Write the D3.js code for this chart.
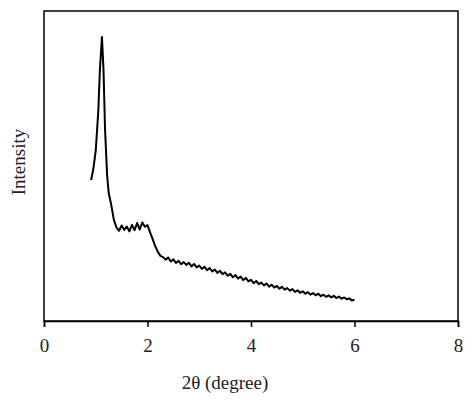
<!DOCTYPE html>
<html><head><meta charset="utf-8">
<script src="https://cdn.jsdelivr.net/npm/d3@7"></script>
<style>body{margin:0;background:#fff}</style></head>
<body><svg id="c" width="474" height="404"></svg>
<script>
const xTicks = [0,2,4,6,8];
const theta = [0.91,0.95,1.00,1.05,1.08,1.12,1.15,1.18,1.22,1.25,1.30,1.35,
1.40,1.45,1.50,1.55,1.60,1.65,1.70,1.75,1.80,1.85,1.90,1.95,2.00,2.05,2.10,2.15,2.20,2.25,2.30,2.35,2.40,2.45,2.50,2.55,2.60,2.65,2.70,2.75,2.80,2.85,2.90,2.95,3.00,3.05,3.10,3.15,3.20,3.25,3.30,3.35,3.40,3.45,3.50,3.55,3.60,3.65,3.70,3.75,3.80,3.85,3.90,3.95,4.00,4.05,4.10,4.15,4.20,4.25,4.30,4.35,4.40,4.45,4.50,4.55,4.60,4.65,4.70,4.75,4.80,4.85,4.90,4.95,5.00,5.05,5.10,5.15,5.20,5.25,5.30,5.35,5.40,5.45,5.50,5.55,5.60,5.65,5.70,5.75,5.80,5.85,5.90,5.95,6.00];
const intensity = [45.5,48.7,55,68,81,91.6,81,61.6,47,41.3,37.4,32.6,
30.2,29.1,30.8,29.4,30.5,28.9,31.0,29.3,31.6,29.5,31.8,30.4,30.9,28.6,26.4,24.1,22.3,21.0,20.6,19.8,20.5,19.2,19.9,18.7,19.4,18.3,19.0,18.1,18.8,17.6,18.4,17.3,17.9,16.8,17.5,16.4,17.1,16.0,16.6,15.5,16.2,15.1,15.7,14.6,15.2,14.1,14.8,13.7,14.3,13.2,13.9,12.8,13.3,12.2,12.9,11.9,12.4,11.5,12.1,11.1,11.7,10.8,11.3,10.4,11.0,10.1,10.6,9.8,10.3,9.4,9.9,9.1,9.6,8.8,9.3,8.5,9.0,8.3,8.8,8.0,8.5,7.8,8.3,7.6,8.1,7.4,7.9,7.2,7.6,7.0,7.3,6.6,6.9];
const svg = d3.select("#c");
const L=44,R=458,T=11,B=321;
const x = d3.scaleLinear().domain([0,8]).range([L,R]);
const y = d3.scaleLinear().domain([0,100]).range([B,T]);
svg.append("rect").attr("x",L).attr("y",T).attr("width",R-L).attr("height",B-T)
  .attr("fill","none").attr("stroke","#000").attr("stroke-width",1.5);
const ax = svg.append("g").attr("transform",`translate(0,${B})`)
  .call(d3.axisBottom(x).tickValues(xTicks).tickSize(6).tickPadding(12).tickFormat(d3.format("d")));
ax.select(".domain").attr("stroke-width",1.5);
ax.selectAll("line").attr("stroke-width",1.5);
ax.selectAll("text").attr("font-family","Liberation Serif").attr("font-size",19).attr("fill","#222");
const pts = theta.map((t,i)=>[t,intensity[i]]);
svg.append("path").datum(pts).attr("fill","none").attr("stroke","#000").attr("stroke-width",2)
  .attr("stroke-linejoin","round")
  .attr("d",d3.line().x(d=>x(d[0])).y(d=>y(d[1])));
svg.append("text").attr("x",225).attr("y",389).attr("text-anchor","middle")
  .attr("font-family","Liberation Serif").attr("font-size",19).attr("fill","#222").text("2θ (degree)");
svg.append("text").attr("transform","translate(25,162) rotate(-90)").attr("text-anchor","middle")
  .attr("font-family","Liberation Serif").attr("font-size",19).attr("fill","#222").text("Intensity");
</script></body></html>
